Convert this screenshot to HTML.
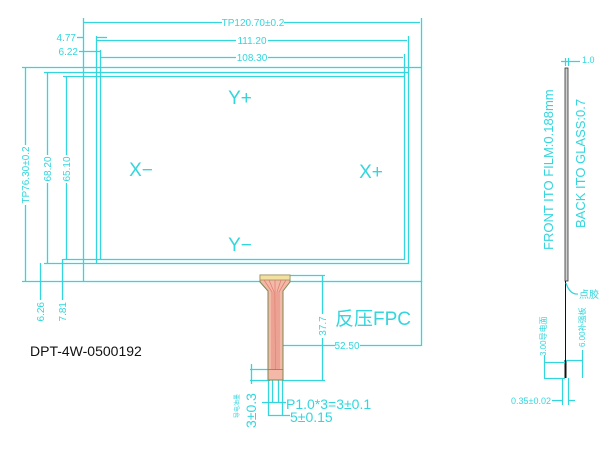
<!DOCTYPE html>
<html><head><meta charset="utf-8"><style>
html,body{margin:0;padding:0;background:#fff;width:614px;height:455px;overflow:hidden}
svg{display:block}
text{font-family:"Liberation Sans","Noto Sans CJK SC",sans-serif;fill:#33d6dd}
</style></head><body>
<svg width="614" height="455" viewBox="0 0 614 455" xmlns="http://www.w3.org/2000/svg">
<g stroke="#33d6dd" stroke-width="1.3" fill="none">
<rect x="83.5" y="67.5" width="338" height="214"/>
<rect x="96.5" y="72.5" width="312" height="191"/>
<rect x="100.5" y="76.5" width="304" height="183"/>
<line x1="83.5" y1="18" x2="83.5" y2="67"/>
<line x1="421.5" y1="18" x2="421.5" y2="67"/>
<line x1="96.5" y1="36" x2="96.5" y2="72"/>
<line x1="408.5" y1="36" x2="408.5" y2="72"/>
<line x1="100.5" y1="50" x2="100.5" y2="76"/>
<line x1="404.5" y1="54" x2="404.5" y2="76"/>
<line x1="84" y1="22.5" x2="222" y2="22.5"/><line x1="284" y1="22.5" x2="420" y2="22.5"/>
<line x1="97" y1="40.5" x2="236" y2="40.5"/><line x1="268" y1="40.5" x2="407" y2="40.5"/>
<line x1="101" y1="57.5" x2="236" y2="57.5"/><line x1="268" y1="57.5" x2="403" y2="57.5"/>
<line x1="77" y1="37.5" x2="83" y2="37.5"/><line x1="97" y1="37.5" x2="107" y2="37.5"/>
<line x1="79" y1="51.5" x2="100" y2="51.5"/>
<line x1="22" y1="67.5" x2="83" y2="67.5"/>
<line x1="22" y1="281.5" x2="83" y2="281.5"/>
<line x1="25.5" y1="68" x2="25.5" y2="145"/><line x1="25.5" y1="205" x2="25.5" y2="281"/>
<line x1="44" y1="72.5" x2="96" y2="72.5"/>
<line x1="44" y1="263.5" x2="96" y2="263.5"/>
<line x1="47.5" y1="73" x2="47.5" y2="155"/><line x1="47.5" y1="183" x2="47.5" y2="263"/>
<line x1="63" y1="76.5" x2="100" y2="76.5"/>
<line x1="63" y1="259.5" x2="100" y2="259.5"/>
<line x1="66.5" y1="77" x2="66.5" y2="155"/><line x1="66.5" y1="183" x2="66.5" y2="259"/>
<line x1="40.5" y1="263" x2="40.5" y2="300"/>
<line x1="62.5" y1="259" x2="62.5" y2="300"/>
<line x1="290" y1="275.5" x2="325" y2="275.5"/>
<line x1="322.5" y1="276" x2="322.5" y2="314"/><line x1="322.5" y1="338" x2="322.5" y2="380"/>
<line x1="282" y1="380.5" x2="325" y2="380.5"/>
<line x1="276" y1="345.5" x2="335" y2="345.5"/><line x1="360" y1="345.5" x2="421" y2="345.5"/>
<line x1="421.5" y1="281" x2="421.5" y2="346"/>
<line x1="250" y1="369.5" x2="270" y2="369.5"/>
<line x1="250" y1="380.5" x2="270" y2="380.5"/>
<line x1="251.5" y1="364" x2="251.5" y2="384"/>
<line x1="268.5" y1="380" x2="268.5" y2="416"/><line x1="282.5" y1="380" x2="282.5" y2="416"/>
<line x1="272.5" y1="380" x2="272.5" y2="403"/><line x1="278.5" y1="380" x2="278.5" y2="403"/>
<line x1="262" y1="402.5" x2="286" y2="402.5"/>
<line x1="268" y1="415.5" x2="290" y2="415.5"/>
</g>
<path d="M260,275 L290,275 L290,282 L283,291 L283,380 L268,380 L268,291 L260,282 Z" fill="#f4b8a8" stroke="#7a8a50" stroke-width="1"/>
<rect x="260" y="275" width="30" height="5" fill="#f2e0a0" stroke="#a09060" stroke-width="0.8"/>
<g stroke="#e08070" stroke-width="0.8" fill="none">
<path d="M264,280 L272,292 L272,370"/><path d="M269,280 L274,292 L274,370"/>
<path d="M275,280 L275.5,370"/><path d="M281,280 L277,292 L277,370"/><path d="M286,280 L279,292 L279,370"/>
</g>
<line x1="268" y1="369.5" x2="283" y2="369.5" stroke="#7a8a50" stroke-width="0.8"/>
<rect x="565" y="68" width="3" height="213" fill="#cfcfcf" stroke="#333" stroke-width="0.8"/>
<line x1="565.5" y1="281" x2="565.5" y2="378" stroke="#111" stroke-width="1"/>
<line x1="565.5" y1="360" x2="565.5" y2="378" stroke="#111" stroke-width="2"/>
<g stroke="#33d6dd" stroke-width="1.2" fill="none">
<line x1="565.5" y1="58" x2="565.5" y2="66"/><line x1="568.5" y1="58" x2="568.5" y2="66"/>
<line x1="561" y1="61.5" x2="580" y2="61.5"/>
<path d="M566,283 Q570,295 578,294"/>
<line x1="544" y1="362.5" x2="565" y2="362.5"/>
<line x1="544" y1="378.5" x2="565" y2="378.5"/>
<line x1="544.5" y1="355" x2="544.5" y2="378"/>
<line x1="566" y1="360.5" x2="582" y2="360.5"/>
<line x1="582.5" y1="350" x2="582.5" y2="378"/>
<line x1="562.5" y1="378" x2="562.5" y2="405"/><line x1="568.5" y1="378" x2="568.5" y2="405"/>
<line x1="552" y1="400.5" x2="562" y2="400.5"/><line x1="568" y1="400.5" x2="575" y2="400.5"/>
</g>
<g font-size="10">
<text x="253" y="26" text-anchor="middle">TP120.70±0.2</text>
<text x="252" y="44" text-anchor="middle">111.20</text>
<text x="252" y="61" text-anchor="middle">108.30</text>
<text x="76" y="41" text-anchor="end">4.77</text>
<text x="78" y="55" text-anchor="end">6.22</text>
<text transform="translate(29,175) rotate(-90)" text-anchor="middle">TP76.30±0.2</text>
<text transform="translate(51,169) rotate(-90)" text-anchor="middle">68.20</text>
<text transform="translate(70,169) rotate(-90)" text-anchor="middle">65.10</text>
<text transform="translate(44,302) rotate(-90)" text-anchor="end">6.26</text>
<text transform="translate(66,302) rotate(-90)" text-anchor="end">7.81</text>
<text transform="translate(326,326) rotate(-90)" text-anchor="middle">37.7</text>
<text x="347" y="349" text-anchor="middle">52.50</text>
</g>
<g font-size="19">
<text x="240" y="104" text-anchor="middle">Y+</text>
<text x="240" y="251" text-anchor="middle">Y−</text>
<text x="141" y="176" text-anchor="middle">X−</text>
<text x="371" y="178" text-anchor="middle">X+</text>
</g>
<text x="335" y="325" font-size="19">反压FPC</text>
<g font-size="14">
<text x="286" y="409">P1.0*3=3±0.1</text>
<text x="290" y="422">5±0.15</text>
<text transform="translate(256,428) rotate(-90)">3±0.3</text>
</g>
<text transform="translate(239,418) rotate(-90)" font-size="6">导电油墨</text>
<text x="30" y="356" font-size="14" style="fill:#111">DPT-4W-0500192</text>
<g font-size="13">
<text transform="translate(553,250) rotate(-90)">FRONT ITO FILM:0.188mm</text>
<text transform="translate(585,228) rotate(-90)">BACK ITO GLASS:0.7</text>
</g>
<text x="582" y="63" font-size="9">1.0</text>
<text x="579" y="298" font-size="10">点胶</text>
<text transform="translate(546,356) rotate(-90)" font-size="8">3.00导电面</text>
<text transform="translate(585,347) rotate(-90)" font-size="8">6.00补强板</text>
<text x="551" y="404" font-size="9" text-anchor="end">0.35±0.02</text>
</svg>
</body></html>
